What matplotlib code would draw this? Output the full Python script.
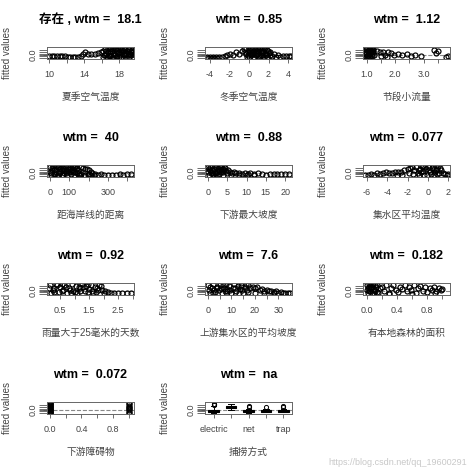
"""
Partial-dependence style panels (fitted values vs predictor), 3 x 4 grid.
"""

import matplotlib
import matplotlib.pyplot as plt

matplotlib.use("Agg")

plt.rcParams["font.family"] = ["Liberation Sans", "Noto Sans CJK SC", "DejaVu Sans"]

# ---- data ----
titles = ["存在 , wtm =  18.1", "wtm =  0.85", "wtm =  1.12",
          "wtm =  40", "wtm =  0.88", "wtm =  0.077",
          "wtm =  0.92", "wtm =  7.6", "wtm =  0.182",
          "wtm =  0.072", "wtm =  na"]
xlabels = ["夏季空气温度", "冬季空气温度", "节段小流量",
           "距海岸线的距离", "下游最大坡度", "集水区平均温度",
           "雨量大于25毫米的天数", "上游集水区的平均坡度", "有本地森林的面积",
           "下游障碍物", "捕捞方式"]

summer_x = [10.0, 10.3, 10.6, 10.9, 11.2, 11.5, 11.8, 12.1, 12.4, 12.7, 13.0, 13.3, 13.6, 13.9,
            14.1, 14.4, 14.8, 15.2, 15.6, 15.9, 16.1, 16.3, 16.4, 16.6, 16.7, 16.9, 17.0, 17.2,
            17.3, 17.5, 17.6, 17.8, 17.9, 18.1, 18.2, 18.4, 18.5, 18.7, 18.8, 19.0, 19.1, 19.3,
            19.4, 19.5, 19.6, 16.5, 17.1, 17.7, 18.3, 18.9, 19.2, 16.8, 17.4, 18.0, 18.6, 19.5,
            16.2, 16.5, 16.9, 17.2, 17.5, 17.8, 18.1, 18.4, 18.7, 19.0, 19.3, 19.6, 16.4, 16.7,
            17.0, 17.3, 17.6, 17.9, 18.2, 18.5, 18.8, 19.1, 19.4, 17.0, 18.0, 19.0]
summer_y = [-0.1, -0.12, -0.1, -0.12, -0.1, -0.12, -0.1, -0.2, -0.22, -0.2, -0.2, -0.15, -0.1, 0.05,
            0.25, 0.1, 0.05, 0.1, 0.15, 0.2, 0.3, 0.0, 0.5, -0.2, 0.2, 0.45, -0.1, 0.3,
            0.55, 0.0, -0.25, 0.4, 0.15, 0.55, -0.15, 0.3, 0.05, 0.5, -0.25, 0.2, 0.45, -0.05,
            0.55, 0.25, -0.2, 0.1, 0.55, 0.2, 0.45, 0.35, 0.05, -0.1, 0.1, 0.25, -0.05, 0.4,
            -0.2, 0.35, 0.0, -0.25, 0.45, -0.1, 0.1, -0.25, 0.2, 0.5, 0.35, 0.1, -0.05, 0.55,
            0.3, -0.2, 0.5, 0.55, 0.3, 0.45, 0.05, -0.2, 0.2, 0.15, -0.2, 0.0]

winter_x = [-4.3, -4.0, -3.7, -3.4, -3.1, -2.8, -2.5, -2.2, -1.9, -1.6, -1.3, -1.0, -0.7, -0.5,
            -0.3, -0.2, 0.0, 0.1, 0.2, 0.4, 0.5, 0.6, 0.8, 0.9, 1.0, 1.1, 1.3, 1.4, 1.5, 1.7,
            1.8, 1.9, 2.1, 2.2, 2.4, 2.6, 2.8, 3.0, 3.2, 3.5, 3.8, 4.1, 4.3, 0.3, 0.7, 1.2,
            -0.1, 1.6, 0.9, -0.4, -0.1, 0.2, 0.5, 0.8, 1.1, 1.4, 1.7, 2.0, -0.3, 0.0, 0.3, 0.6,
            0.9, 1.2, 1.5, 1.8, 0.1, 0.7, 1.3, -4.15, -3.85, -3.55, -3.25]
winter_y = [-0.2, -0.22, -0.2, -0.18, -0.2, -0.15, -0.12, -0.05, 0.05, 0.0, 0.2, 0.1, 0.3, 0.5,
            0.1, -0.2, 0.4, 0.55, 0.0, 0.25, -0.2, 0.5, 0.1, 0.35, -0.15, 0.55, 0.2, -0.05, 0.45, 0.1,
            -0.2, 0.3, 0.0, 0.2, -0.1, 0.1, -0.15, -0.05, -0.15, -0.1, -0.1, -0.12, -0.1, 0.45, -0.05, 0.3,
            0.25, 0.55, -0.25, 0.2, -0.05, 0.35, 0.1, 0.55, -0.1, 0.3, 0.0, 0.15, 0.55, -0.2, 0.05, 0.2,
            0.45, 0.0, -0.2, 0.4, 0.15, 0.35, 0.5, -0.25, -0.25, -0.25, -0.25]

flow_x = [0.92, 0.95, 0.98, 1.0, 1.02, 1.05, 1.08, 1.1, 1.12, 1.15, 1.18, 1.2, 1.22, 0.96, 1.04,
          1.14, 1.25, 1.35, 1.45, 1.55, 1.65, 1.75, 1.85, 1.95, 2.1, 2.25, 2.4, 2.55, 2.7, 2.9,
          3.35, 3.5, 3.45, 3.8, 3.85, 1.5, 1.7, 0.93, 0.97, 1.01, 1.06, 1.11, 1.16, 1.21, 0.99,
          1.09, 1.19]
flow_y = [0.5, -0.2, 0.2, 0.55, 0.0, 0.35, -0.15, 0.45, 0.1, 0.3, -0.1, 0.2, 0.5, 0.05, -0.25,
          0.55, 0.0, 0.3, 0.2, 0.25, 0.0, 0.2, 0.15, 0.0, 0.1, -0.05, 0.05, -0.1, -0.05, -0.1,
          0.4, 0.35, 0.15, -0.15, -0.1, -0.1, -0.15, 0.3, 0.45, -0.1, 0.55, -0.2, 0.45, 0.35, -0.25,
          0.25, 0.05]

coast_x = [0, 5, 10, 15, 20, 25, 30, 35, 40, 45, 50, 55, 60, 65, 70, 75, 80, 85, 90, 95, 100,
           105, 110, 115, 120, 125, 130, 135, 140, 145, 150, 160, 170, 180, 190, 200, 210, 160,
           180, 200, 220, 235, 250, 265, 280, 300, 320, 340, 360, 380, 400, 420, 155, 175, 195,
           215, 230, 2, 12, 22, 32, 42, 52, 62, 72, 82, 92, 102, 112, 122, 132, 142, 8, 28, 48,
           68, 88, 108, 128, 148]
coast_y = [0.5, -0.2, 0.2, 0.55, -0.1, 0.35, 0.1, -0.25, 0.45, 0.0, 0.3, 0.55, -0.15, 0.2, 0.4,
           -0.05, 0.55, 0.15, -0.2, 0.35, 0.05, 0.5, -0.1, 0.25, 0.45, -0.2, 0.1, 0.35, -0.05, 0.2,
           0.0, 0.45, 0.4, 0.3, 0.35, 0.2, 0.1, -0.1, -0.15, -0.1, 0.0, -0.1, -0.15, -0.1, -0.15,
           -0.2, -0.15, -0.15, -0.1, -0.15, -0.1, -0.1, -0.2, -0.25, -0.2, -0.2, -0.22, 0.1, 0.4,
           0.25, 0.55, -0.15, 0.1, 0.5, 0.2, 0.0, 0.5, 0.3, 0.55, 0.05, 0.5, 0.4, -0.05, -0.1,
           0.5, -0.15, 0.25, 0.15, 0.55, -0.2]

dslope_x = [0, 0.3, 0.6, 0.9, 1.2, 1.5, 1.8, 2.1, 2.4, 2.7, 3.0, 3.3, 3.6, 3.9, 4.2, 4.5, 4.8,
            0.2, 1.0, 2.0, 2.9, 4.0, 5.3, 5.8, 6.3, 6.8, 7.3, 8, 8.8, 9.5, 10.3, 11, 12, 13, 14,
            15, 16, 17, 18, 19, 20, 21, 6, 8, 10, 12, 0.1, 0.5, 1.1, 1.7, 2.3, 2.8, 3.4, 4.1,
            4.6, 0.7, 1.4, 2.6, 3.8]
dslope_y = [0.5, -0.2, 0.2, 0.55, -0.1, 0.35, 0.0, 0.45, -0.2, 0.25, 0.5, 0.05, 0.35, -0.15, 0.2,
            0.4, -0.05, 0.3, 0.1, -0.05, 0.15, 0.05, 0.2, 0.1, 0.0, 0.05, -0.05, 0.0, -0.1, -0.05,
            -0.1, -0.05, -0.1, -0.05, -0.1, -0.15, -0.1, -0.12, -0.1, -0.12, -0.1, -0.12, -0.2,
            -0.2, -0.2, -0.2, 0.1, 0.45, 0.25, 0.55, 0.1, -0.1, 0.55, 0.5, 0.15, -0.05, -0.2,
            0.4, 0.3]

ctemp_x = [-6.2, -5.9, -5.6, -5.3, -5.0, -4.7, -4.4, -4.1, -3.8, -3.5, -3.2, -2.9, -2.6, -2.3,
           -2.0, -1.8, -1.6, -1.4, -1.2, -1.0, -0.8, -0.6, -0.4, -0.2, 0.0, 0.2, 0.4, 0.6, 0.8,
           1.0, 1.1, 1.3, 1.5, 1.7, 1.9, 2.0, -1.5, -0.5, 0.5, -0.9, 0.9, -2.5, -3.0, -1.9,
           -0.9, -0.7, -0.3, 0.1, 0.3, 0.7, 1.2, -0.1, 0.6, -0.5, 0.95]
ctemp_y = [-0.15, -0.2, -0.1, -0.15, -0.05, -0.1, 0.0, 0.1, 0.0, -0.05, 0.05, 0.1, 0.05, 0.2,
           0.35, 0.4, 0.45, 0.2, 0.5, 0.0, 0.35, 0.55, -0.15, 0.3, 0.5, 0.05, 0.4, -0.2, 0.25,
           0.55, -0.05, 0.2, 0.0, -0.1, -0.15, -0.1, -0.1, 0.15, 0.55, -0.2, -0.1, -0.15, -0.2, -0.05,
           0.25, 0.05, 0.45, 0.2, -0.1, 0.1, 0.4, -0.2, 0.35, 0.55, 0.3]

rain_x = [0.15, 0.2, 0.3, 0.35, 0.45, 0.5, 0.6, 0.65, 0.75, 0.8, 0.9, 0.95, 1.05, 1.1, 1.2,
          1.25, 1.35, 1.4, 1.5, 1.55, 1.65, 1.7, 1.8, 1.85, 0.25, 0.55, 0.85, 1.15, 1.45, 1.75,
          1.95, 2.05, 2.15, 2.25, 2.35, 2.5, 2.65, 2.8, 2.95, 2.0, 0.12, 0.4, 0.7, 1.0, 1.3,
          1.6, 1.9, 0.28, 0.58, 0.88, 1.18, 1.48, 1.78]
rain_y = [0.5, -0.2, 0.2, 0.55, -0.1, 0.35, 0.05, 0.5, -0.2, 0.25, 0.55, 0.0, 0.4, -0.15, 0.2,
          0.55, -0.05, 0.4, 0.15, 0.5, -0.2, 0.3, 0.05, 0.45, 0.05, -0.05, 0.1, 0.3, -0.1, -0.1,
          0.1, 0.0, -0.1, -0.15, -0.15, -0.18, -0.2, -0.18, -0.2, -0.2, 0.2, 0.45, 0.3, -0.1, 0.35,
          0.0, 0.4, -0.1, 0.55, -0.2, 0.0, 0.55, 0.25]

uslope_x = [0, 0.8, 1.5, 2.2, 3, 3.7, 4.5, 5.2, 6, 6.7, 7.5, 8.2, 9, 9.7, 10.5, 11.2, 12, 12.7,
            13.5, 14.2, 15, 15.7, 16.5, 17.2, 18, 1, 4, 8, 13, 17, 19, 20, 21, 22, 23, 24, 25,
            26, 27, 28, 29, 30, 31, 32, 33, 34, 35, 20, 24, 28, 0.4, 2.6, 5.6, 7.1, 9.4, 11.6,
            14.6, 16.1, 2, 6.5, 10, 14]
uslope_y = [0.5, -0.2, 0.2, 0.55, -0.1, 0.35, 0.05, 0.5, -0.2, 0.25, 0.55, 0.0, 0.4, -0.15, 0.2,
            0.55, -0.05, 0.4, 0.15, 0.5, -0.2, 0.3, 0.05, 0.45, 0.2, 0.35, 0.25, 0.15, -0.15, -0.1,
            0.35, 0.2, 0.3, 0.1, 0.15, 0.0, 0.05, -0.05, 0.0, -0.1, -0.05, -0.15, -0.1, -0.15,
            -0.2, -0.15, -0.2, -0.15, -0.2, -0.2, 0.1, 0.05, 0.2, -0.05, 0.1, 0.25, 0.05, 0.55,
            -0.15, 0.45, -0.2, 0.3]

forest_x = [0.0, 0.01, 0.02, 0.03, 0.04, 0.05, 0.07, 0.08, 0.1, 0.11, 0.12, 0.14, 0.15, 0.2,
            0.23, 0.26, 0.29, 0.32, 0.35, 0.38, 0.41, 0.44, 0.47, 0.5, 0.53, 0.56, 0.59, 0.62,
            0.65, 0.68, 0.71, 0.74, 0.77, 0.8, 0.83, 0.86, 0.89, 0.92, 0.95, 0.98, 1.0, 0.3,
            0.6, 0.9, 0.005, 0.025, 0.045, 0.06, 0.09, 0.13, 0.17, 0.035, 0.065, 0.105]
forest_y = [0.5, -0.2, 0.2, 0.55, 0.0, 0.35, -0.15, 0.45, 0.1, -0.05, 0.3, 0.5, -0.2, 0.35,
            0.0, 0.5, -0.15, 0.25, 0.45, 0.05, -0.1, 0.35, 0.15, 0.5, -0.05, 0.3, 0.1, 0.45,
            -0.15, 0.2, 0.4, 0.0, 0.3, -0.1, 0.25, 0.1, 0.35, -0.05, 0.2, 0.05, 0.15, -0.25,
            -0.25, -0.2, 0.1, -0.05, 0.5, 0.25, -0.2, -0.1, 0.2, 0.35, 0.55, 0.45]

barrier_x = [0, 0, 0, 0, 0, 0, 0, 0, 0, 1, 1, 1, 1, 1, 1, 1, 1, 1,
             0, 0, 0, 0, 0, 0, 0, 0, 0, 0]
barrier_y = [-0.25, -0.15, -0.05, 0.05, 0.15, 0.25, 0.35, 0.45, 0.55,
             -0.25, -0.15, -0.05, 0.05, 0.15, 0.25, 0.35, 0.45, 0.55,
             -0.3, -0.2, -0.1, 0.0, 0.1, 0.2, 0.3, 0.4, 0.5, 0.6]

# fishing method: five levels, box statistics
method_labels = ["electric", "", "net", "", "trap"]
method_med = [-0.1, 0.25, -0.1, -0.1, -0.12]
method_q1 = [-0.15, 0.15, -0.15, -0.15, -0.15]
method_q3 = [0.0, 0.3, -0.05, -0.05, -0.05]
method_lo = [-0.25, 0.0, -0.25, -0.2, -0.2]
method_hi = [0.3, 0.5, 0.1, 0.05, 0.1]
method_out = [[0.4, 0.45, 0.5], [], [0.25, 0.35], [0.2], [0.25, 0.35]]

scatter_x = [summer_x, winter_x, flow_x, coast_x, dslope_x, ctemp_x, rain_x, uslope_x,
             forest_x, barrier_x]
scatter_y = [summer_y, winter_y, flow_y, coast_y, dslope_y, ctemp_y, rain_y, uslope_y,
             forest_y, barrier_y]

xlims = [(9.75, 19.7), (-4.5, 4.4), (0.86, 3.93), (-15, 435), (-0.8, 21.8), (-6.4, 2.2),
         (0.05, 3.05), (-1.3, 35.8), (-0.05, 1.1), (-0.04, 1.07), (0.5, 5.5)]
xticks = [[10, 12, 14, 16, 18], [-4, -2, 0, 2, 4], [1.0, 1.5, 2.0, 2.5, 3.0, 3.5],
          [0, 100, 200, 300, 400], [0, 5, 10, 15, 20], [-6, -4, -2, 0, 2],
          [0.5, 1.0, 1.5, 2.0, 2.5, 3.0], [0, 5, 10, 15, 20, 25, 30],
          [0.0, 0.2, 0.4, 0.6, 0.8, 1.0], [0.0, 0.2, 0.4, 0.6, 0.8, 1.0], [1, 2, 3, 4, 5]]
xticklabels = [["10", "", "14", "", "18"], ["-4", "-2", "0", "2", "4"],
               ["1.0", "", "2.0", "", "3.0", ""], ["0", "100", "", "300", ""],
               ["0", "5", "10", "15", "20"], ["-6", "-4", "-2", "0", "2"],
               ["0.5", "", "1.5", "", "2.5", ""], ["0", "", "10", "", "20", "", "30"],
               ["0.0", "", "0.4", "", "0.8", ""], ["0.0", "", "0.4", "", "0.8", ""],
               method_labels]

rug = [-0.23, -0.12, -0.05, 0.1, 0.26, 0.4]
YLIM = (-0.35, 0.65)

# ---- layout in pixels ----
W, H = 474, 473
COL_LEFT = [47, 205, 363]
ROW_TOP = [47, 165, 283, 402]
BOX_W, BOX_H = 87, 12
GREY = "#444444"


def _style(ax, i):
    ax.set_xlim(xlims[i])
    ax.set_ylim(YLIM)
    ax.axhline(0, color="#888888", ls="--", lw=0.8, zorder=1)
    for s in ax.spines.values():
        s.set_color("#666666")
        s.set_linewidth(0.7)
    ax.set_xticks(xticks[i])
    ax.set_xticklabels(xticklabels[i])
    ax.tick_params(axis="x", length=3, width=0.6, pad=5, labelsize=6.5,
                   color="#555555", labelcolor=GREY)
    ax.set_yticks([0])
    ax.set_yticklabels(["0.0"], rotation=90, va="center")
    ax.set_yticks(rug, minor=True)
    ax.tick_params(axis="y", which="major", length=3, width=0.6, pad=4,
                   labelsize=6.5, color="#555555", labelcolor=GREY)
    ax.tick_params(axis="y", which="minor", length=5.5, width=0.6, color="#555555")
    ax.set_title(titles[i], fontsize=9, fontweight="bold", pad=17)
    ax.set_xlabel(xlabels[i], fontsize=7, color=GREY, labelpad=9)
    ax.set_ylabel("fitted values", fontsize=7, color=GREY)
    ax.yaxis.set_label_coords(-35 / BOX_W, 0.5)


def main() -> None:
    fig = plt.figure(figsize=(W / 100, H / 100), dpi=100)
    for i in range(11):
        r, c = divmod(i, 3)
        left = COL_LEFT[c] / W
        bottom = 1 - (ROW_TOP[r] + BOX_H) / H
        ax = fig.add_axes([left, bottom, BOX_W / W, BOX_H / H])
        if i < 10:
            ax.plot(scatter_x[i], scatter_y[i], "o", mfc="none", mec="black",
                    ms=3.6, mew=0.85, zorder=2)
        else:
            stats = [
                {"med": method_med[k], "q1": method_q1[k], "q3": method_q3[k],
                 "whislo": method_lo[k], "whishi": method_hi[k], "fliers": method_out[k]}
                for k in range(5)
            ]
            ax.bxp(stats, positions=[1, 2, 3, 4, 5], widths=0.6, patch_artist=True,
                   boxprops={"facecolor": "white", "edgecolor": "black", "linewidth": 0.8},
                   medianprops={"color": "black", "linewidth": 1.8},
                   whiskerprops={"color": "black", "linewidth": 0.7, "linestyle": "--"},
                   capprops={"color": "black", "linewidth": 0.7},
                   flierprops={"marker": "o", "mfc": "none", "mec": "black",
                               "ms": 3, "mew": 0.7})
        _style(ax, i)

    fig.text(0.985, 0.012, "https://blog.csdn.net/qq_19600291", ha="right", va="bottom",
             fontsize=6.5, color="#c8c8c8")
    fig.savefig("out.png", dpi=100)
    plt.close(fig)


if __name__ == "__main__":
    main()
